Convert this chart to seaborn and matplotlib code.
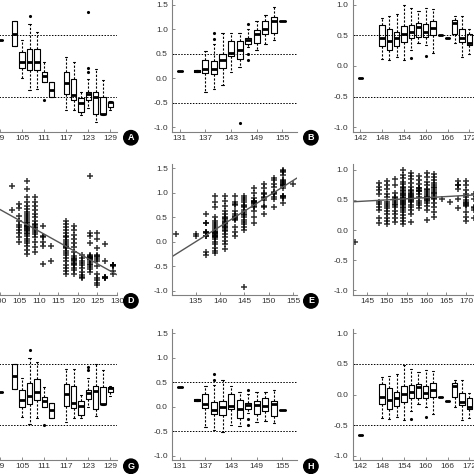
# Nine-panel figure: box plots (A-C), raw data with linear fit (D-F), residual box plots (G-I)

import numpy as np
import pandas as pd
import seaborn as sns
import matplotlib.pyplot as plt

sns.set_style('ticks')
plt.rcParams['font.family'] = ['Liberation Sans', 'DejaVu Sans']
plt.rcParams['axes.unicode_minus'] = False

# series 1 (panels A, D, G)
x1 = [99, 103, 105, 107, 109, 111, 113, 117, 119, 121, 123, 125, 127, 129]
y1 = [
    [0.42],
    [0.33, 0.73],
    [-0.2, -0.12, -0.04, 0.0, 0.05, 0.08, 0.15, 0.235, 0.36, 0.43],
    [-0.39, -0.33, -0.27, -0.22, -0.18, -0.14, -0.10, -0.066, -0.04, -0.02, 0.0, 0.02, 0.04, 0.055, 0.065,
     0.075, 0.09, 0.11, 0.14, 0.17, 0.20, 0.24, 0.27, 0.30, 0.35, 0.40, 0.47, 0.55, 0.68, 0.81],
    [-0.37, -0.28, -0.2, -0.12, -0.066, -0.03, 0.0, 0.03, 0.055, 0.077, 0.1, 0.15, 0.21, 0.27, 0.33, 0.40,
     0.47, 0.55],
    [-0.56, -0.26, -0.2, -0.12, -0.093, 0.066],
    [-0.51, -0.26],
    [-0.72, -0.68, -0.62, -0.57, -0.52, -0.46, -0.42, -0.38, -0.34, -0.30, -0.28, -0.26, -0.23, -0.2, -0.16,
     -0.12, -0.093, -0.05, 0.0, 0.05, 0.10, 0.15],
    [-0.72, -0.66, -0.62, -0.58, -0.56, -0.54, -0.52, -0.50, -0.48, -0.47, -0.43, -0.37, -0.28, -0.21, -0.15,
     -0.08, 0.0, 0.07],
    [-0.80, -0.77, -0.75, -0.70, -0.62, -0.58, -0.55, -0.52, -0.47, -0.42],
    [-0.69, -0.65, -0.61, -0.58, -0.56, -0.53, -0.50, -0.48, -0.465, -0.455, -0.45, -0.44, -0.43, -0.42,
     -0.22, -0.09, -0.04, 0.89],
    [-0.91, -0.87, -0.83, -0.79, -0.72, -0.6, -0.52, -0.48, -0.45, -0.43, -0.42, -0.3, -0.15, -0.055],
    [-0.80, -0.79, -0.785, -0.775, -0.51, -0.23],
    [-0.72, -0.67, -0.6, -0.585, -0.58, -0.57],
]

# series 2 (panels B, E, H)
x2 = [131, 135, 137, 139, 141, 143, 145, 147, 149, 151, 153, 155]
y2 = [
    [0.15],
    [0.12, 0.16],
    [-0.28, -0.2, 0.11, 0.11, 0.17, 0.19, 0.19, 0.38, 0.38, 0.56],
    [-0.23, -0.18, -0.12, -0.05, 0.0, 0.05, 0.095, 0.1, 0.11, 0.12, 0.14, 0.16, 0.175, 0.185, 0.19, 0.2,
     0.22, 0.25, 0.3, 0.35, 0.38, 0.42, 0.5, 0.70, 0.80, 0.93],
    [-0.14, -0.05, 0.02, 0.1, 0.16, 0.21, 0.24, 0.27, 0.30, 0.33, 0.36, 0.38, 0.40, 0.43, 0.46, 0.48, 0.5,
     0.56, 0.63, 0.72, 0.82, 0.93],
    [0.12, 0.2, 0.30, 0.45, 0.46, 0.48, 0.51, 0.53, 0.56, 0.62, 0.755, 0.76, 0.80, 0.93],
    [-0.925, 0.23, 0.30, 0.36, 0.40, 0.45, 0.50, 0.55, 0.57, 0.60, 0.65, 0.70, 0.73, 0.755, 0.80, 0.85,
     0.90, 0.93],
    [0.38, 0.50, 0.63, 0.71, 0.73, 0.76, 0.78, 0.80, 0.81, 0.82, 0.83, 0.90, 1.0, 1.1],
    [0.57, 0.70, 0.72, 0.85, 0.90, 0.92, 0.97, 0.99, 1.10, 1.17],
    [0.71, 0.88, 0.91, 0.98, 1.0, 1.02, 1.12, 1.17, 1.25, 1.29],
    [0.79, 0.9, 0.92, 0.93, 0.93, 1.1, 1.14, 1.16, 1.165, 1.175, 1.2, 1.22, 1.24, 1.25, 1.36, 1.42, 1.45,
     1.46],
    [1.18],
]

# series 3 (panels C, F, I)
x3 = [142, 148, 150, 152, 154, 156, 158, 160, 162, 164, 166, 168, 170, 172]
y3 = [
    [-0.19],
    [0.11, 0.2, 0.33, 0.38, 0.43, 0.47, 0.6, 0.67, 0.72, 0.78],
    [0.10, 0.15, 0.2, 0.26, 0.32, 0.37, 0.40, 0.43, 0.47, 0.55, 0.60, 0.68, 0.75, 0.81],
    [0.14, 0.2, 0.27, 0.32, 0.38, 0.42, 0.44, 0.46, 0.5, 0.53, 0.55, 0.62, 0.75, 0.85],
    [0.10, 0.15, 0.2, 0.25, 0.3, 0.33, 0.36, 0.39, 0.41, 0.43, 0.45, 0.47, 0.49, 0.505, 0.515, 0.525, 0.54,
     0.56, 0.58, 0.60, 0.62, 0.64, 0.66, 0.69, 0.72, 0.76, 0.8, 0.86, 0.92, 0.99],
    [0.13, 0.26, 0.33, 0.38, 0.42, 0.46, 0.48, 0.5, 0.52, 0.54, 0.555, 0.565, 0.58, 0.6, 0.62, 0.65, 0.67,
     0.72, 0.78, 0.85, 0.9, 0.945],
    [0.37, 0.42, 0.45, 0.48, 0.55, 0.6, 0.64, 0.65, 0.67, 0.69, 0.70, 0.76, 0.83, 0.90],
    [0.17, 0.34, 0.4, 0.45, 0.48, 0.5, 0.52, 0.54, 0.555, 0.565, 0.6, 0.63, 0.66, 0.68, 0.74, 0.8, 0.88,
     0.945],
    [0.22, 0.3, 0.38, 0.45, 0.51, 0.54, 0.57, 0.6, 0.61, 0.63, 0.66, 0.69, 0.72, 0.74, 0.78, 0.83, 0.88,
     0.93],
    [0.51],
    [0.46],
    [0.37, 0.52, 0.68, 0.74, 0.75, 0.81],
    [0.15, 0.22, 0.3, 0.40, 0.42, 0.44, 0.455, 0.465, 0.5, 0.55, 0.60, 0.66, 0.74, 0.81],
    [0.2, 0.34, 0.36, 0.38, 0.52, 0.6],
]

xticks_box = [[99, 105, 111, 117, 123, 129], [131, 137, 143, 149, 155], [142, 148, 154, 160, 166, 172]]
xticks_fit = [[100, 105, 110, 115, 120, 125, 130], [135, 140, 145, 150, 155], [145, 150, 155, 160, 165, 170]]
yticks_narrow = [-1.0, -0.5, 0.0, 0.5, 1.0]
yticks_wide = [-1.0, -0.5, 0.0, 0.5, 1.0, 1.5]
labels = ['A', 'B', 'C', 'D', 'E', 'F', 'G', 'H', 'I']


def to_frame(xs, groups):
    rows = [(x, v) for x, g in zip(xs, groups) for v in g]
    return pd.DataFrame(rows, columns=['x', 'y'])


def box_stats(groups):
    # quartiles like MATLAB's prctile, whiskers at 1.5 IQR
    stats = []
    for g in groups:
        v = np.sort(np.asarray(g, float))
        q1, med, q3 = np.percentile(v, [25, 50, 75], method='hazen')
        lo, hi = q1 - 1.5 * (q3 - q1), q3 + 1.5 * (q3 - q1)
        inside = v[(v >= lo) & (v <= hi)]
        stats.append(dict(q1=q1, med=med, q3=q3, whislo=inside.min(), whishi=inside.max(),
                          fliers=v[(v < lo) | (v > hi)]))
    return stats


def residuals(xs, groups):
    # distance of each value from the straight-line fit shown in the middle row
    d = to_frame(xs, groups)
    slope, icpt = np.polyfit(d.x, d.y, 1)
    return [[v - (slope * x + icpt) for v in g] for x, g in zip(xs, groups)]


def style(ax, xlim, ylim, xticks, yticks, label):
    ax.set_xlim(xlim)
    ax.set_ylim(ylim)
    ax.set_xticks(xticks)
    ax.set_yticks(yticks)
    ax.set_yticklabels([f'{t:.1f}' for t in yticks])
    ax.set_xlabel('')
    ax.set_ylabel('')
    ax.tick_params(direction='in', length=2.5, width=0.6, labelsize=6, colors='#777', labelcolor='#333')
    ax.tick_params(axis='x', pad=2.5)
    ax.tick_params(axis='y', pad=3)
    sns.despine(ax=ax)
    for s in ('left', 'bottom'):
        ax.spines[s].set_color('#808080')
        ax.spines[s].set_linewidth(0.8)
    ax.annotate(label, xy=(1, 0), xycoords='axes fraction', xytext=(10, -4.5), textcoords='offset points',
                ha='center', va='center', color='w', fontsize=6.5, fontweight='bold',
                bbox=dict(boxstyle='circle,pad=0.3', fc='k', ec='k'))


def box_panel(ax, xs, groups, xlim, ylim, xticks, yticks, label):
    ax.bxp(box_stats(groups), positions=xs, widths=1.45, capwidths=0.6, manage_ticks=False,
           boxprops=dict(color='k', lw=0.8),
           medianprops=dict(color='k', lw=2.0, solid_capstyle='butt'),
           whiskerprops=dict(color='k', lw=0.8, ls=(0, (2, 1.5))),
           capprops=dict(color='k', lw=0.8),
           flierprops=dict(marker='.', ms=2.5, mfc='k', mec='k'))
    for yy in (-0.5, 0.5):
        ax.axhline(yy, color='k', lw=0.7, ls=(0, (1.5, 1.5)))
    style(ax, xlim, ylim, xticks, yticks, label)


def fit_panel(ax, xs, groups, xlim, ylim, xticks, yticks, label):
    ax.set_xlim(xlim)
    sns.regplot(data=to_frame(xs, groups), x='x', y='y', ax=ax, ci=None, truncate=False, marker='+',
                scatter_kws=dict(color='k', s=18, linewidths=1.1),
                line_kws=dict(color='#555', lw=1.0))
    style(ax, xlim, ylim, xticks, yticks, label)


fig = plt.figure(figsize=(4.74, 4.74), dpi=100)
# the picture is a crop: outer columns run past the left and right edges
lefts = [-8 / 474, 172 / 474, 352.7 / 474]
bottoms = [1 - 131.5 / 474, 1 - 294.7 / 474, 1 - 460 / 474]
w, h = 125 / 474, 131 / 474
axes = [[fig.add_axes([l, b, w, h]) for l in lefts] for b in bottoms]

series = [(x1, y1), (x2, y2), (x3, y3)]
box_xlims = [(96.8, 130.8), (129.2, 158.4), (139.9, 174.3)]
fit_xlims = [(98.0, 130.0), (130.1, 155.8), (141.4, 172.9)]
box_ylims = [(-1.07, 1.07), (-1.09, 1.59), (-1.07, 1.07)]
fit_ylims = [(-1.07, 1.10), (-1.08, 1.59), (-1.07, 1.10)]
ytick_sets = [yticks_narrow, yticks_wide, yticks_narrow]

for c, (xs, ys) in enumerate(series):
    box_panel(axes[0][c], xs, ys, box_xlims[c], box_ylims[c], xticks_box[c], ytick_sets[c], labels[c])
    fit_panel(axes[1][c], xs, ys, fit_xlims[c], fit_ylims[c], xticks_fit[c], ytick_sets[c], labels[3 + c])
    box_panel(axes[2][c], xs, residuals(xs, ys), box_xlims[c], box_ylims[c], xticks_box[c], ytick_sets[c],
              labels[6 + c])

fig.savefig('out.png', dpi=100)
